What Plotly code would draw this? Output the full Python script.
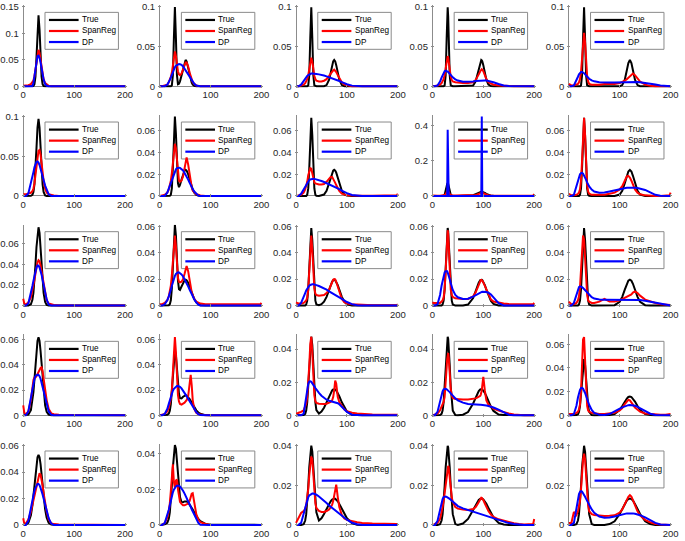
import plotly.graph_objects as go

# x sample points for each column of panels
X_C1 = [0, 2, 5, 10, 15, 18, 20, 22, 24, 26, 28, 30, 32, 34, 36, 38, 40, 43, 46, 50, 55, 60, 70, 200]
X_C2 = [0, 2, 5, 10, 15, 18, 20, 22, 24, 26, 28, 30, 32, 34, 36, 38, 40, 43, 46, 49, 51, 53, 56, 59, 61,
        63, 65, 68, 72, 76, 80, 90, 100, 198, 200]
X_C3 = [0, 2, 5, 10, 15, 18, 20, 22, 24, 26, 28, 30, 32, 34, 36, 38, 40, 45, 50, 55, 60, 65, 68, 71, 73,
        75, 77, 79, 82, 85, 90, 95, 100, 110, 120, 130, 150, 198, 200]
X_C4 = [0, 2, 5, 10, 15, 18, 20, 22, 24, 26, 28, 29, 30, 31, 32, 34, 36, 38, 40, 45, 50, 60, 70, 80, 85,
        88, 91, 94, 95, 96, 97, 98, 100, 103, 106, 110, 115, 120, 130, 140, 150, 160, 170, 180, 198, 200]
X_C5 = [0, 2, 5, 10, 15, 18, 20, 22, 24, 26, 28, 30, 32, 34, 36, 38, 40, 45, 50, 60, 70, 80, 90, 100, 105,
        110, 114, 117, 120, 123, 126, 130, 135, 140, 150, 160, 170, 180, 190, 198, 200]

# column 1 (one row per list)
TRUE_C1 = [
    [0, 0, 0, 0, 0, 0, 0.0005, 0.0038, 0.018, 0.0551, 0.1073, 0.134, 0.1073, 0.0551, 0.018, 0.0038, 0.0005, 0, 0, 0, 0, 0, 0, 0],
    [0, 0, 0, 0, 0.0001, 0.0013, 0.0049, 0.0144, 0.0332, 0.0603, 0.0861, 0.097, 0.0861, 0.0603, 0.0332, 0.0144, 0.0049, 0.0006, 0, 0, 0, 0, 0, 0],
    [0, 0, 0, 0.0001, 0.0013, 0.0056, 0.0124, 0.0238, 0.0395, 0.0569, 0.0707, 0.076, 0.0707, 0.0569, 0.0395, 0.0238, 0.0124, 0.0035, 0.0007, 0.0001, 0, 0, 0, 0],
    [0, 0, 0, 0.0005, 0.004, 0.0107, 0.0183, 0.0284, 0.0399, 0.051, 0.059, 0.062, 0.059, 0.051, 0.0399, 0.0284, 0.0183, 0.0079, 0.0027, 0.0005, 0, 0, 0, 0],
    [0, 0, 0.0002, 0.0015, 0.0072, 0.0147, 0.0218, 0.030, 0.0385, 0.046, 0.0511, 0.053, 0.0511, 0.046, 0.0385, 0.030, 0.0218, 0.0118, 0.0054, 0.0015, 0.0002, 0, 0, 0],
]
SPAN_C1 = [
    [0.001, 0.001, 0.001, 0.002, 0.004, 0.007, 0.011, 0.019, 0.031, 0.047, 0.062, 0.069, 0.063, 0.05, 0.035, 0.022, 0.013, 0.006, 0.003, 0.001, 0, 0, 0, 0],
    [0.002, 0.002, 0.002, 0.003, 0.004, 0.006, 0.009, 0.016, 0.026, 0.038, 0.05, 0.057, 0.058, 0.052, 0.041, 0.029, 0.019, 0.009, 0.004, 0.002, 0.001, 0.0005, 0, 0],
    [0.0066, 0.002, 0.001, 0.003, 0.008, 0.014, 0.019, 0.025, 0.031, 0.037, 0.042, 0.044, 0.043, 0.039, 0.033, 0.026, 0.019, 0.01, 0.005, 0.002, 0.001, 0.0005, 0, 0],
    [0.0078, 0.002, 0.0005, 0.003, 0.012, 0.022, 0.028, 0.03, 0.03, 0.031, 0.033, 0.035, 0.036, 0.0375, 0.038, 0.035, 0.029, 0.02, 0.012, 0.005, 0.0015, 0.0008, 0.0003, 0],
    [0.005, 0.001, 0.001, 0.004, 0.01, 0.015, 0.019, 0.022, 0.026, 0.03, 0.034, 0.037, 0.039, 0.038, 0.035, 0.03, 0.024, 0.016, 0.01, 0.004, 0.0012, 0.0006, 0.0003, 0],
]
DP_C1 = [
    [0, 0, 0, 0, 0, 0, 0.006, 0.018, 0.034, 0.048, 0.057, 0.058, 0.054, 0.045, 0.034, 0.023, 0.013, 0.004, 0.001, 0, 0, 0, 0, 0],
    [0, 0, 0, 0.003, 0.015, 0.024, 0.03, 0.036, 0.04, 0.043, 0.0435, 0.042, 0.039, 0.035, 0.03, 0.025, 0.02, 0.013, 0.007, 0.002, 0, 0, 0, 0],
    [0, 0, 0, 0.002, 0.011, 0.019, 0.024, 0.029, 0.034, 0.037, 0.039, 0.0388, 0.037, 0.034, 0.03, 0.025, 0.02, 0.012, 0.006, 0.001, 0, 0, 0, 0],
    [0, 0, 0, 0.003, 0.014, 0.022, 0.026, 0.029, 0.031, 0.032, 0.0322, 0.032, 0.031, 0.029, 0.026, 0.023, 0.02, 0.014, 0.009, 0.003, 0.0003, 0, 0, 0],
    [0, 0, 0, 0.003, 0.013, 0.019, 0.022, 0.026, 0.028, 0.030, 0.031, 0.031, 0.030, 0.028, 0.026, 0.023, 0.02, 0.015, 0.01, 0.005, 0.001, 0, 0, 0],
]

# column 2
TRUE_C2 = [
    [0, 0, 0, 0, 0, 0, 0, 0, 0.0011, 0.0135, 0.0605, 0.0998, 0.0607, 0.0141, 0.0026, 0.0032, 0.0062, 0.0137, 0.0235, 0.0314, 0.0332,
     0.0314, 0.0235, 0.0137, 0.0083, 0.0045, 0.0022, 0.0006, 0.0001, 0, 0, 0, 0, 0, 0],
    [0, 0, 0, 0, 0, 0, 0.0001, 0.0011, 0.007, 0.0257, 0.056, 0.073, 0.0572, 0.0283, 0.0116, 0.0081, 0.0101, 0.0151, 0.020, 0.0233, 0.024,
     0.0233, 0.020, 0.0151, 0.0116, 0.0085, 0.0058, 0.0029, 0.001, 0.0003, 0, 0, 0, 0, 0],
    [0, 0, 0, 0, 0, 0.0002, 0.001, 0.004, 0.0129, 0.0304, 0.0509, 0.0611, 0.0529, 0.0343, 0.0189, 0.0124, 0.0118, 0.0144, 0.0174, 0.0192, 0.0196,
     0.0192, 0.0174, 0.0144, 0.0121, 0.0098, 0.0076, 0.0049, 0.0024, 0.001, 0.0003, 0, 0, 0, 0],
    [0, 0, 0, 0.0001, 0.0004, 0.0013, 0.0036, 0.0088, 0.0187, 0.0324, 0.0454, 0.0514, 0.0475, 0.0366, 0.0249, 0.017, 0.0136, 0.0133, 0.0147, 0.0156, 0.0158,
     0.0156, 0.0146, 0.0129, 0.0115, 0.010, 0.0085, 0.0064, 0.0039, 0.0022, 0.0011, 0.0001, 0, 0, 0],
    [0, 0.0001, 0.0001, 0.0003, 0.0011, 0.0034, 0.007, 0.0132, 0.022, 0.0323, 0.0409, 0.0449, 0.0428, 0.036, 0.0275, 0.0202, 0.0156, 0.0129, 0.0128, 0.0132, 0.0133,
     0.0132, 0.0126, 0.0115, 0.0106, 0.0097, 0.0086, 0.007, 0.005, 0.0033, 0.0021, 0.0005, 0.0001, 0, 0],
]
SPAN_C2 = [
    [0, 0, 0, 0.001, 0.002, 0.005, 0.008, 0.012, 0.017, 0.025, 0.036, 0.044, 0.038, 0.027, 0.019, 0.015, 0.014, 0.016, 0.021, 0.027, 0.03,
     0.03, 0.025, 0.017, 0.012, 0.008, 0.005, 0.003, 0.001, 0.0005, 0, 0, 0, 0, 0],
    [0, 0, 0.0005, 0.001, 0.003, 0.006, 0.009, 0.014, 0.021, 0.031, 0.042, 0.048, 0.044, 0.031, 0.019, 0.014, 0.013, 0.014, 0.018, 0.026, 0.033,
     0.0355, 0.029, 0.018, 0.012, 0.008, 0.005, 0.003, 0.0015, 0.001, 0.0005, 0, 0, 0, 0],
    [0.001, 0.001, 0.001, 0.002, 0.004, 0.007, 0.01, 0.015, 0.023, 0.035, 0.048, 0.053, 0.045, 0.03, 0.021, 0.018, 0.0175, 0.018, 0.02, 0.024, 0.028,
     0.03, 0.026, 0.018, 0.013, 0.01, 0.008, 0.005, 0.003, 0.002, 0.0015, 0.001, 0.001, 0.001, 0.002],
    [0, 0, 0.0005, 0.001, 0.003, 0.006, 0.009, 0.013, 0.02, 0.033, 0.052, 0.062, 0.05, 0.03, 0.016, 0.011, 0.009, 0.0085, 0.009, 0.01, 0.011,
     0.012, 0.015, 0.024, 0.032, 0.024, 0.012, 0.005, 0.002, 0.001, 0.0005, 0, 0, 0, 0],
    [0, 0, 0, 0.001, 0.004, 0.008, 0.012, 0.019, 0.03, 0.034, 0.024, 0.021, 0.025, 0.0255, 0.02, 0.015, 0.013, 0.0118, 0.011, 0.011, 0.0112,
     0.0115, 0.012, 0.0135, 0.0155, 0.0175, 0.0178, 0.013, 0.006, 0.003, 0.0015, 0.0005, 0, 0, 0],
]
DP_C2 = [
    [0, 0, 0, 0, 0.002, 0.005, 0.008, 0.011, 0.015, 0.019, 0.022, 0.024, 0.026, 0.027, 0.028, 0.028, 0.0278, 0.027, 0.025, 0.022, 0.02,
     0.018, 0.015, 0.011, 0.009, 0.007, 0.005, 0.003, 0.001, 0, 0, 0, 0, 0, 0],
    [0, 0, 0, 0, 0.003, 0.007, 0.009, 0.012, 0.015, 0.018, 0.021, 0.023, 0.0245, 0.0255, 0.026, 0.026, 0.0258, 0.025, 0.0235, 0.021, 0.0195,
     0.0178, 0.015, 0.012, 0.0098, 0.008, 0.0063, 0.004, 0.0017, 0.0003, 0, 0, 0, 0, 0],
    [0, 0, 0, 0.001, 0.004, 0.007, 0.009, 0.012, 0.015, 0.018, 0.0205, 0.0225, 0.024, 0.0248, 0.0251, 0.025, 0.0245, 0.0235, 0.022, 0.02, 0.0185,
     0.017, 0.0145, 0.012, 0.0102, 0.0086, 0.007, 0.0048, 0.0024, 0.0007, 0, 0, 0, 0, 0],
    [0, 0, 0, 0.001, 0.005, 0.009, 0.012, 0.015, 0.0175, 0.0195, 0.021, 0.022, 0.0228, 0.0232, 0.0232, 0.023, 0.0225, 0.0213, 0.0197, 0.0178, 0.0165,
     0.0152, 0.013, 0.011, 0.0095, 0.0082, 0.0068, 0.0048, 0.0025, 0.0008, 0.0001, 0, 0, 0, 0],
    [0, 0, 0, 0.001, 0.005, 0.0085, 0.011, 0.0138, 0.0163, 0.0183, 0.0198, 0.0209, 0.0216, 0.022, 0.0221, 0.022, 0.0216, 0.0206, 0.0192, 0.0176, 0.0165,
     0.0153, 0.0135, 0.0115, 0.0102, 0.0088, 0.0075, 0.0055, 0.003, 0.0011, 0.0001, 0, 0, 0, 0],
]

# column 3
TRUE_C3 = [
    [0, 0, 0, 0, 0, 0, 0, 0, 0.0011, 0.0135, 0.0605, 0.0997, 0.0605, 0.0135, 0.0011, 0, 0, 0, 0, 0.0001, 0.0015, 0.0083,
     0.0168, 0.0266, 0.0314, 0.0332, 0.0314, 0.0266, 0.0168, 0.0083, 0.0015, 0.0001, 0, 0, 0, 0, 0, 0, 0],
    [0, 0, 0, 0, 0, 0, 0, 0.0011, 0.0069, 0.0254, 0.0555, 0.072, 0.0555, 0.0254, 0.0069, 0.0011, 0.0001, 0, 0.0003, 0.0013, 0.0047, 0.0116,
     0.0168, 0.0214, 0.0233, 0.024, 0.0233, 0.0214, 0.0168, 0.0116, 0.0047, 0.0013, 0.0003, 0, 0, 0, 0, 0, 0],
    [0, 0, 0, 0, 0, 0.0001, 0.0008, 0.0037, 0.0123, 0.0294, 0.0494, 0.0587, 0.0494, 0.0294, 0.0123, 0.0037, 0.0009, 0.0003, 0.001, 0.0029, 0.0066, 0.0121,
     0.0155, 0.0181, 0.0192, 0.0196, 0.0192, 0.0181, 0.0155, 0.0121, 0.0066, 0.0029, 0.001, 0.0001, 0, 0, 0, 0, 0],
    [0, 0, 0, 0, 0.0001, 0.0008, 0.0028, 0.0077, 0.0171, 0.0302, 0.0424, 0.0475, 0.0424, 0.0302, 0.0172, 0.0078, 0.0031, 0.001, 0.0022, 0.0045, 0.0078, 0.0115,
     0.0135, 0.015, 0.0156, 0.0158, 0.0156, 0.015, 0.0135, 0.0115, 0.0078, 0.0045, 0.0022, 0.0003, 0, 0, 0, 0, 0],
    [0, 0, 0, 0, 0.0004, 0.0022, 0.0054, 0.0111, 0.0194, 0.029, 0.0368, 0.04, 0.0369, 0.0293, 0.0199, 0.0118, 0.0063, 0.0022, 0.0033, 0.0055, 0.0081, 0.0106,
     0.0119, 0.0128, 0.0132, 0.0133, 0.0132, 0.0128, 0.0119, 0.0106, 0.0081, 0.0055, 0.0033, 0.0009, 0.0001, 0, 0, 0, 0],
]
SPAN_C3 = [
    [0, 0, 0, 0.001, 0.002, 0.004, 0.006, 0.009, 0.014, 0.022, 0.031, 0.036, 0.031, 0.021, 0.013, 0.009, 0.007, 0.006, 0.006, 0.007, 0.009, 0.013,
     0.016, 0.019, 0.02, 0.021, 0.02, 0.018, 0.014, 0.01, 0.005, 0.002, 0.001, 0, 0, 0, 0, 0, 0],
    [0, 0, 0.0005, 0.001, 0.003, 0.006, 0.009, 0.013, 0.019, 0.024, 0.0255, 0.025, 0.02, 0.015, 0.0125, 0.0115, 0.011, 0.0105, 0.0105, 0.011, 0.013, 0.016,
     0.0175, 0.0175, 0.016, 0.014, 0.012, 0.01, 0.007, 0.0045, 0.002, 0.001, 0.0005, 0.0003, 0.0002, 0.0002, 0.0002, 0.0005, 0.002],
    [0.0025, 0.002, 0.0015, 0.0015, 0.002, 0.003, 0.004, 0.006, 0.012, 0.026, 0.045, 0.053, 0.042, 0.024, 0.013, 0.009, 0.008, 0.0075, 0.0075, 0.008, 0.0095, 0.012,
     0.015, 0.018, 0.0195, 0.02, 0.0198, 0.018, 0.014, 0.01, 0.005, 0.0025, 0.0015, 0.001, 0.0008, 0.0005, 0.0003, 0.0003, 0.001],
    [0.001, 0.001, 0.0015, 0.002, 0.003, 0.005, 0.007, 0.011, 0.018, 0.03, 0.043, 0.0475, 0.038, 0.022, 0.012, 0.0085, 0.0075, 0.007, 0.0068, 0.0068, 0.007, 0.0075,
     0.008, 0.009, 0.011, 0.015, 0.021, 0.019, 0.011, 0.008, 0.0055, 0.0035, 0.0025, 0.0015, 0.001, 0.0008, 0.0005, 0.0003, 0.0003],
    [0.001, 0.002, 0.004, 0.006, 0.007, 0.008, 0.01, 0.013, 0.018, 0.025, 0.031, 0.0345, 0.033, 0.026, 0.017, 0.011, 0.0085, 0.007, 0.0065, 0.0065, 0.007, 0.0078,
     0.0088, 0.0102, 0.012, 0.0145, 0.018, 0.0203, 0.014, 0.009, 0.005, 0.0032, 0.0025, 0.0018, 0.0013, 0.001, 0.0007, 0.0005, 0.0005],
]
DP_C3 = [
    [0, 0, 0, 0.002, 0.007, 0.01, 0.012, 0.013, 0.014, 0.015, 0.0155, 0.016, 0.016, 0.016, 0.016, 0.0158, 0.0156, 0.015, 0.0145, 0.0135, 0.0125, 0.0115,
     0.011, 0.0103, 0.0098, 0.0093, 0.0088, 0.0083, 0.0075, 0.0067, 0.0052, 0.0038, 0.0025, 0.0008, 0.0001, 0, 0, 0, 0],
    [0, 0, 0, 0.002, 0.006, 0.009, 0.011, 0.0125, 0.0137, 0.0146, 0.0152, 0.0156, 0.0158, 0.0158, 0.0157, 0.0155, 0.0152, 0.0145, 0.0137, 0.0128, 0.0118, 0.0107,
     0.0101, 0.0095, 0.009, 0.0086, 0.0082, 0.0077, 0.007, 0.0062, 0.0049, 0.0036, 0.0025, 0.0009, 0.0002, 0, 0, 0, 0],
    [0, 0, 0, 0.002, 0.006, 0.0095, 0.0115, 0.013, 0.014, 0.015, 0.0156, 0.016, 0.0161, 0.0161, 0.016, 0.0158, 0.0155, 0.0148, 0.014, 0.013, 0.012, 0.0108,
     0.0102, 0.0095, 0.009, 0.0086, 0.0082, 0.0077, 0.007, 0.0062, 0.005, 0.0038, 0.0027, 0.0011, 0.0002, 0, 0, 0, 0],
    [0, 0, 0, 0, 0.001, 0.007, 0.012, 0.016, 0.019, 0.0203, 0.0205, 0.0202, 0.0195, 0.0185, 0.0175, 0.0165, 0.0155, 0.0135, 0.0118, 0.0104, 0.0094, 0.0088,
     0.0086, 0.0084, 0.0083, 0.0082, 0.008, 0.0078, 0.0073, 0.0066, 0.0052, 0.0035, 0.002, 0.0003, 0, 0, 0, 0, 0],
    [0, 0, 0, 0.001, 0.006, 0.0095, 0.0115, 0.013, 0.014, 0.0148, 0.0153, 0.0156, 0.0158, 0.0158, 0.0157, 0.0155, 0.0152, 0.0143, 0.0133, 0.0122, 0.011, 0.0098,
     0.0092, 0.0086, 0.0082, 0.0078, 0.0074, 0.007, 0.0064, 0.0058, 0.0047, 0.0036, 0.0026, 0.0011, 0.0003, 0, 0, 0, 0],
]

# column 4
TRUE_C4 = [
    [0, 0, 0, 0, 0, 0, 0, 0, 0.0011, 0.0135, 0.0605, 0.088, 0.0997, 0.088, 0.0605, 0.0135, 0.0011, 0, 0, 0, 0, 0, 0, 0.0009,
     0.0062, 0.0137, 0.0235, 0.0314, 0.0327, 0.0332, 0.0327, 0.0314, 0.0266, 0.0168, 0.0083, 0.0022, 0.0002, 0, 0, 0, 0, 0, 0, 0, 0, 0],
    [0, 0, 0, 0, 0, 0, 0, 0.0011, 0.0069, 0.0254, 0.0555, 0.0675, 0.072, 0.0675, 0.0555, 0.0254, 0.0069, 0.0011, 0.0001, 0, 0, 0, 0.0002, 0.0037,
     0.010, 0.0151, 0.020, 0.0233, 0.0238, 0.024, 0.0238, 0.0233, 0.0214, 0.0168, 0.0116, 0.0058, 0.0017, 0.0004, 0, 0, 0, 0, 0, 0, 0, 0],
    [0, 0, 0, 0, 0, 0.0001, 0.0008, 0.0037, 0.0123, 0.0294, 0.0494, 0.0562, 0.0587, 0.0562, 0.0494, 0.0294, 0.0123, 0.0037, 0.0008, 0, 0, 0.0001, 0.0008, 0.0057,
     0.011, 0.0144, 0.0174, 0.0192, 0.0195, 0.0196, 0.0195, 0.0192, 0.0181, 0.0155, 0.0121, 0.0076, 0.0035, 0.0012, 0.0001, 0, 0, 0, 0, 0, 0, 0],
    [0, 0, 0, 0, 0.0001, 0.0008, 0.0028, 0.0077, 0.0171, 0.0302, 0.0424, 0.0462, 0.0475, 0.0462, 0.0424, 0.0302, 0.0171, 0.0077, 0.0028, 0.0001, 0, 0.0003, 0.0019, 0.0071,
     0.0108, 0.0129, 0.0146, 0.0156, 0.0158, 0.0158, 0.0158, 0.0156, 0.015, 0.0135, 0.0115, 0.0085, 0.0051, 0.0026, 0.0004, 0.0001, 0, 0, 0, 0, 0, 0],
    [0, 0, 0, 0, 0.0004, 0.0022, 0.0054, 0.0111, 0.0194, 0.029, 0.0368, 0.0391, 0.0399, 0.0391, 0.0368, 0.029, 0.0194, 0.0111, 0.0054, 0.0004, 0, 0.0007, 0.003, 0.0075,
     0.0102, 0.0115, 0.0126, 0.0132, 0.0133, 0.0133, 0.0133, 0.0132, 0.0128, 0.0119, 0.0106, 0.0086, 0.006, 0.0037, 0.001, 0.0002, 0, 0, 0, 0, 0, 0],
]
SPAN_C4 = [
    [0, 0, 0.0005, 0.001, 0.002, 0.004, 0.006, 0.009, 0.014, 0.022, 0.032, 0.036, 0.038, 0.036, 0.031, 0.02, 0.012, 0.008, 0.006, 0.005, 0.0045, 0.004, 0.004, 0.005,
     0.008, 0.011, 0.015, 0.019, 0.02, 0.021, 0.0215, 0.021, 0.019, 0.014, 0.009, 0.005, 0.003, 0.002, 0.001, 0.0005, 0, 0, 0, 0, 0, 0],
    [0.002, 0.001, 0.001, 0.001, 0.001, 0.002, 0.002, 0.003, 0.005, 0.01, 0.02, 0.028, 0.032, 0.028, 0.02, 0.01, 0.005, 0.003, 0.002, 0.002, 0.002, 0.002, 0.002, 0.003,
     0.005, 0.008, 0.012, 0.017, 0.019, 0.02, 0.02, 0.019, 0.015, 0.01, 0.006, 0.003, 0.002, 0.001, 0.001, 0.001, 0.001, 0.001, 0.001, 0.001, 0.002, 0.01],
    [0.0025, 0.002, 0.002, 0.002, 0.002, 0.003, 0.004, 0.006, 0.012, 0.026, 0.047, 0.054, 0.057, 0.054, 0.045, 0.025, 0.012, 0.008, 0.0065, 0.0055, 0.0052, 0.005, 0.005, 0.007,
     0.01, 0.013, 0.016, 0.0188, 0.0193, 0.0194, 0.0192, 0.0188, 0.0175, 0.015, 0.0118, 0.008, 0.0045, 0.003, 0.002, 0.0015, 0.0012, 0.001, 0.001, 0.001, 0.001, 0.002],
    [0, 0, 0.0005, 0.001, 0.003, 0.005, 0.007, 0.008, 0.011, 0.018, 0.029, 0.034, 0.037, 0.0377, 0.035, 0.024, 0.016, 0.012, 0.0105, 0.0098, 0.0096, 0.0095, 0.0095, 0.0098,
     0.0102, 0.0106, 0.011, 0.0118, 0.0125, 0.0135, 0.015, 0.018, 0.0232, 0.015, 0.009, 0.0065, 0.005, 0.004, 0.0028, 0.0018, 0.001, 0.0004, 0.0001, 0, 0, 0],
    [0, 0, 0.0005, 0.001, 0.003, 0.006, 0.009, 0.012, 0.016, 0.021, 0.026, 0.028, 0.0295, 0.0298, 0.029, 0.025, 0.019, 0.014, 0.0115, 0.009, 0.0082, 0.0077, 0.0075, 0.008,
     0.009, 0.0102, 0.0118, 0.0132, 0.0135, 0.0137, 0.0136, 0.0133, 0.0125, 0.0108, 0.009, 0.007, 0.0052, 0.004, 0.0028, 0.002, 0.0013, 0.0008, 0.0004, 0.0002, 0.0005, 0.003],
]
DP_C4 = [
    [0, 0, 0, 0.001, 0.006, 0.011, 0.014, 0.017, 0.019, 0.0196, 0.0195, 0.019, 0.0185, 0.018, 0.0172, 0.0155, 0.014, 0.0125, 0.0112, 0.0088, 0.0072, 0.0058, 0.0055, 0.006,
     0.0065, 0.0068, 0.0071, 0.0073, 0.0074, 0.0075, 0.0075, 0.0075, 0.0075, 0.0074, 0.0072, 0.0068, 0.006, 0.005, 0.0028, 0.001, 0.0002, 0, 0, 0, 0, 0],
    [0, 0, 0, 0, 0, 0, 0, 0, 0, 0, 0, 0, 0.376, 0, 0, 0, 0, 0, 0, 0, 0, 0, 0, 0,
     0, 0, 0, 0, 0, 0, 0.45, 0, 0, 0, 0, 0, 0, 0, 0, 0, 0, 0, 0, 0, 0, 0],
    [0, 0, 0, 0.001, 0.008, 0.015, 0.019, 0.023, 0.025, 0.026, 0.0262, 0.026, 0.025, 0.024, 0.023, 0.02, 0.017, 0.014, 0.0118, 0.008, 0.0063, 0.005, 0.0052, 0.0068,
     0.008, 0.0088, 0.0095, 0.01, 0.0101, 0.0102, 0.0103, 0.0104, 0.0105, 0.0105, 0.0103, 0.0097, 0.0083, 0.0062, 0.0018, 0.0001, 0, 0, 0, 0, 0, 0],
    [0, 0, 0, 0.002, 0.009, 0.0125, 0.0145, 0.0157, 0.016, 0.016, 0.0157, 0.0155, 0.0152, 0.015, 0.0147, 0.014, 0.0132, 0.0125, 0.0118, 0.0102, 0.009, 0.0076, 0.0068, 0.0064,
     0.0063, 0.0063, 0.0063, 0.0063, 0.0063, 0.0063, 0.0063, 0.0063, 0.0062, 0.0061, 0.0059, 0.0056, 0.0052, 0.0047, 0.0034, 0.0017, 0.0003, 0, 0, 0, 0, 0],
    [0, 0, 0, 0.002, 0.008, 0.0115, 0.013, 0.014, 0.0143, 0.0143, 0.0141, 0.014, 0.0138, 0.0137, 0.0135, 0.0131, 0.0127, 0.0122, 0.0117, 0.0105, 0.0095, 0.0083, 0.0075, 0.0068,
     0.0064, 0.0061, 0.0059, 0.0056, 0.0055, 0.0055, 0.0054, 0.0053, 0.0051, 0.0048, 0.0045, 0.0041, 0.0036, 0.0032, 0.0024, 0.0016, 0.0009, 0.0004, 0.0001, 0, 0, 0],
]

# column 5
TRUE_C5 = [
    [0, 0, 0, 0, 0, 0, 0, 0, 0.0011, 0.0135, 0.0605, 0.0997, 0.0605, 0.0135, 0.0011, 0, 0, 0, 0, 0, 0, 0, 0, 0.0001,
     0.0015, 0.0083, 0.0201, 0.0293, 0.0332, 0.0293, 0.0201, 0.0083, 0.0015, 0.0001, 0, 0, 0, 0, 0, 0, 0],
    [0, 0, 0, 0, 0, 0, 0, 0.0011, 0.0069, 0.0254, 0.0555, 0.072, 0.0555, 0.0254, 0.0069, 0.0011, 0.0001, 0, 0, 0, 0, 0, 0, 0.0013,
     0.0047, 0.0116, 0.0185, 0.0225, 0.024, 0.0225, 0.0185, 0.0116, 0.0047, 0.0013, 0, 0, 0, 0, 0, 0, 0],
    [0, 0, 0, 0, 0, 0.0001, 0.0008, 0.0037, 0.0123, 0.0294, 0.0494, 0.0587, 0.0494, 0.0294, 0.0123, 0.0037, 0.0008, 0, 0, 0, 0, 0, 0.0003, 0.0029,
     0.0066, 0.0121, 0.0165, 0.0188, 0.0196, 0.0188, 0.0165, 0.0121, 0.0066, 0.0029, 0.0003, 0, 0, 0, 0, 0, 0],
    [0, 0, 0, 0, 0.0001, 0.0008, 0.0028, 0.0077, 0.0171, 0.0302, 0.0424, 0.0475, 0.0424, 0.0302, 0.0171, 0.0077, 0.0028, 0.0001, 0, 0, 0, 0.0001, 0.0009, 0.0045,
     0.0078, 0.0115, 0.0141, 0.0154, 0.0158, 0.0154, 0.0141, 0.0115, 0.0078, 0.0045, 0.0009, 0.0001, 0, 0, 0, 0, 0],
    [0, 0, 0, 0, 0.0004, 0.0022, 0.0054, 0.0111, 0.0194, 0.029, 0.0368, 0.0399, 0.0368, 0.029, 0.0194, 0.0111, 0.0054, 0.0004, 0, 0, 0, 0.0004, 0.0018, 0.0055,
     0.0081, 0.0106, 0.0123, 0.013, 0.0133, 0.013, 0.0123, 0.0106, 0.0081, 0.0055, 0.0018, 0.0004, 0, 0, 0, 0, 0],
]
SPAN_C5 = [
    [0.003, 0.002, 0.001, 0.001, 0.002, 0.003, 0.005, 0.009, 0.018, 0.035, 0.058, 0.0675, 0.055, 0.03, 0.013, 0.006, 0.003, 0.002, 0.002, 0.002, 0.003, 0.003, 0.003, 0.004,
     0.005, 0.007, 0.009, 0.011, 0.013, 0.015, 0.016, 0.014, 0.01, 0.006, 0.002, 0.0005, 0, 0, 0, 0, 0],
    [0.002, 0.001, 0.0005, 0.0005, 0.001, 0.002, 0.003, 0.006, 0.014, 0.032, 0.058, 0.072, 0.056, 0.028, 0.01, 0.004, 0.002, 0.001, 0.001, 0.001, 0.001, 0.002, 0.003, 0.006,
     0.009, 0.014, 0.018, 0.0185, 0.017, 0.014, 0.01, 0.006, 0.003, 0.0015, 0.0005, 0, 0, 0, 0, 0.0005, 0.003],
    [0.003, 0.002, 0.001, 0.001, 0.002, 0.004, 0.007, 0.014, 0.028, 0.045, 0.053, 0.05, 0.035, 0.018, 0.008, 0.004, 0.003, 0.002, 0.002, 0.003, 0.005, 0.003, 0.003, 0.004,
     0.005, 0.006, 0.0065, 0.007, 0.0075, 0.0085, 0.0098, 0.0107, 0.0095, 0.0075, 0.0045, 0.003, 0.002, 0.001, 0.0005, 0.0003, 0.0005],
    [0.001, 0.001, 0.001, 0.001, 0.002, 0.003, 0.005, 0.009, 0.02, 0.045, 0.064, 0.066, 0.045, 0.02, 0.008, 0.004, 0.003, 0.002, 0.0015, 0.001, 0.001, 0.0012, 0.002, 0.004,
     0.006, 0.0095, 0.012, 0.013, 0.0125, 0.011, 0.009, 0.0065, 0.0045, 0.003, 0.0015, 0.001, 0.0007, 0.0005, 0.0004, 0.0004, 0.001],
    [0.001, 0.001, 0.001, 0.0065, 0.005, 0.007, 0.009, 0.012, 0.018, 0.026, 0.033, 0.0359, 0.033, 0.025, 0.016, 0.01, 0.007, 0.0054, 0.005, 0.0046, 0.0045, 0.0046, 0.0048, 0.0062,
     0.0078, 0.0105, 0.0128, 0.0142, 0.015, 0.0143, 0.0125, 0.0098, 0.0068, 0.0048, 0.0025, 0.0013, 0.0005, 0.0002, 0, 0, 0],
]
DP_C5 = [
    [0, 0, 0, 0.001, 0.007, 0.012, 0.015, 0.017, 0.018, 0.018, 0.0175, 0.0165, 0.015, 0.0135, 0.012, 0.0105, 0.0095, 0.0075, 0.0062, 0.005, 0.0046, 0.0046, 0.0048, 0.005,
     0.0052, 0.0054, 0.0056, 0.0057, 0.0058, 0.0058, 0.0058, 0.0057, 0.0055, 0.0052, 0.0045, 0.0035, 0.0022, 0.001, 0.0002, 0, 0],
    [0, 0, 0, 0.001, 0.009, 0.015, 0.018, 0.02, 0.021, 0.0212, 0.0205, 0.019, 0.017, 0.0148, 0.0125, 0.0105, 0.0088, 0.0058, 0.0041, 0.003, 0.0032, 0.0041, 0.0053, 0.0063,
     0.0068, 0.0072, 0.0075, 0.0076, 0.0077, 0.0077, 0.0077, 0.0076, 0.0073, 0.0069, 0.0055, 0.0032, 0.001, 0.0001, 0, 0, 0],
    [0, 0, 0, 0.002, 0.009, 0.0125, 0.014, 0.0145, 0.0145, 0.014, 0.0133, 0.0125, 0.0115, 0.0106, 0.0096, 0.0087, 0.0079, 0.0063, 0.0053, 0.0046, 0.0045, 0.0045, 0.0046, 0.0047,
     0.0047, 0.0047, 0.0047, 0.0047, 0.0047, 0.0047, 0.0046, 0.0045, 0.0044, 0.0042, 0.0037, 0.003, 0.0021, 0.0012, 0.0004, 0, 0],
    [0, 0, 0, 0.001, 0.008, 0.015, 0.019, 0.0215, 0.023, 0.0232, 0.0225, 0.021, 0.0188, 0.0162, 0.0135, 0.011, 0.0088, 0.0045, 0.002, 0.0003, 0.0002, 0.001, 0.003, 0.0055,
     0.0067, 0.0077, 0.0082, 0.0085, 0.0086, 0.0086, 0.0084, 0.008, 0.0071, 0.006, 0.0035, 0.0013, 0.0002, 0, 0, 0, 0],
    [0, 0, 0, 0.001, 0.009, 0.0135, 0.0155, 0.0166, 0.017, 0.0168, 0.0161, 0.0152, 0.0142, 0.0131, 0.012, 0.011, 0.01, 0.0078, 0.0061, 0.0042, 0.0036, 0.0037, 0.0042, 0.005,
     0.0053, 0.0056, 0.0058, 0.0058, 0.0059, 0.0058, 0.0058, 0.0056, 0.0053, 0.0049, 0.0038, 0.0024, 0.001, 0.0002, 0, 0, 0],
]

# y limits and y ticks of each panel (row by row)
Y_MAX = [
    [0.15, 0.1, 0.1, 0.1, 0.1],
    [0.1, 0.073, 0.073, 0.45, 0.073],
    [0.077, 0.06, 0.06, 0.06, 0.06],
    [0.063, 0.063, 0.048, 0.048, 0.067],
    [0.06, 0.0446, 0.04, 0.04, 0.04],
]
T05 = [0, 0.05, 0.1]
T02 = [0, 0.02, 0.04, 0.06]
T02S = [0, 0.02, 0.04]
Y_TICKS = [
    [[0, 0.05, 0.1, 0.15], T05, T05, T05, T05],
    [T05, T02, T02, [0, 0.2, 0.4], T02],
    [T02, T02, T02, T02, T02],
    [T02, T02, T02S, T02S, T02],
    [T02, T02S, T02S, T02S, T02S],
]
X_TICKS = [0, 100, 200]
X_MAX = 200

METHODS = ["True", "SpanReg", "DP"]
COLORS = ["#000000", "#ff0000", "#0000ff"]

grids = [X_C1, X_C2, X_C3, X_C4, X_C5]
series = [
    (TRUE_C1, SPAN_C1, DP_C1),
    (TRUE_C2, SPAN_C2, DP_C2),
    (TRUE_C3, SPAN_C3, DP_C3),
    (TRUE_C4, SPAN_C4, DP_C4),
    (TRUE_C5, SPAN_C5, DP_C5),
]

# page geometry in pixels
W, H = 685, 541
COL_X0, COL_STEP, AX_W = 21.5, 138.0, 103.0
ROW_TOP, ROW_STEP, AX_H = 3.0, 111.3, 80.5
PAD = 1.5
AXIS_COLOR = "#8c8c8c"
FONT = "Liberation Sans, Arial, Helvetica, sans-serif"

fig = go.Figure()
shapes = []
annotations = []
layout = {}

for r in range(5):
    for c in range(5):
        k = r * 5 + c + 1
        xname = "x" if k == 1 else "x%d" % k
        yname = "y" if k == 1 else "y%d" % k
        x0 = COL_X0 + COL_STEP * c
        top = ROW_TOP + ROW_STEP * r
        zero = top + AX_H
        ymax = Y_MAX[r][c]

        for m in range(3):
            yv = series[c][m][r]
            assert len(yv) == len(grids[c]), (r, c, m, len(yv), len(grids[c]))
            fig.add_trace(go.Scatter(
                x=grids[c], y=yv, mode="lines", name=METHODS[m],
                line=dict(color=COLORS[m], width=2),
                xaxis=xname, yaxis=yname, showlegend=False, hoverinfo="skip",
            ))

        xpad = PAD * X_MAX / AX_W
        ypad = PAD * ymax / AX_H
        common = dict(
            showgrid=False, showline=False, zeroline=True,
            zerolinecolor=AXIS_COLOR, zerolinewidth=1,
            ticks="inside", ticklen=3, tickwidth=0.8, tickcolor=AXIS_COLOR,
            tickfont=dict(family=FONT, size=9.5, color="#262626"),
            fixedrange=True, tickmode="array",
        )
        layout["xaxis" if k == 1 else "xaxis%d" % k] = dict(
            common,
            domain=[(x0 - PAD) / W, (x0 + AX_W + PAD) / W],
            range=[-xpad, X_MAX + xpad],
            tickvals=X_TICKS, ticktext=["%g" % v for v in X_TICKS],
            anchor=yname, ticklabelstandoff=0,
        )
        layout["yaxis" if k == 1 else "yaxis%d" % k] = dict(
            common,
            domain=[1 - (zero + PAD) / H, 1 - (top - PAD) / H],
            range=[-ypad, ymax + ypad],
            tickvals=Y_TICKS[r][c], ticktext=["%g" % v for v in Y_TICKS[r][c]],
            anchor=xname, ticklabelstandoff=2,
        )

        # legend box of this panel
        bl = x0 + 22.0
        br = bl + 74.3
        bb = zero - 37.5
        bt = bb - 37.5
        shapes.append(dict(
            type="rect", xref="paper", yref="paper",
            x0=bl / W, x1=br / W, y0=1 - bb / H, y1=1 - bt / H,
            line=dict(color="#8a8a8a", width=1), fillcolor="white", layer="below",
        ))
        for m, off in enumerate([7.7, 18.9, 30.1]):
            yy = 1 - (bt + off) / H
            shapes.append(dict(
                type="line", xref="paper", yref="paper",
                x0=(bl + 4) / W, x1=(bl + 34) / W, y0=yy, y1=yy,
                line=dict(color=COLORS[m], width=2.2), layer="below",
            ))
            annotations.append(dict(
                xref="paper", yref="paper", x=(bl + 35.5) / W, y=yy,
                xanchor="left", yanchor="middle", showarrow=False,
                text=METHODS[m], font=dict(family=FONT, size=8.2, color="#000000"),
            ))

fig.update_layout(
    width=W, height=H, autosize=False,
    margin=dict(l=0, r=0, t=0, b=0, pad=0),
    paper_bgcolor="white", plot_bgcolor="rgba(0,0,0,0)",
    shapes=shapes, annotations=annotations,
    font=dict(family=FONT),
    **layout,
)

fig.write_html(
    "out.html",
    config={"displayModeBar": False},
    post_script="document.body.style.margin='0px';document.body.style.overflow='hidden';",
)
